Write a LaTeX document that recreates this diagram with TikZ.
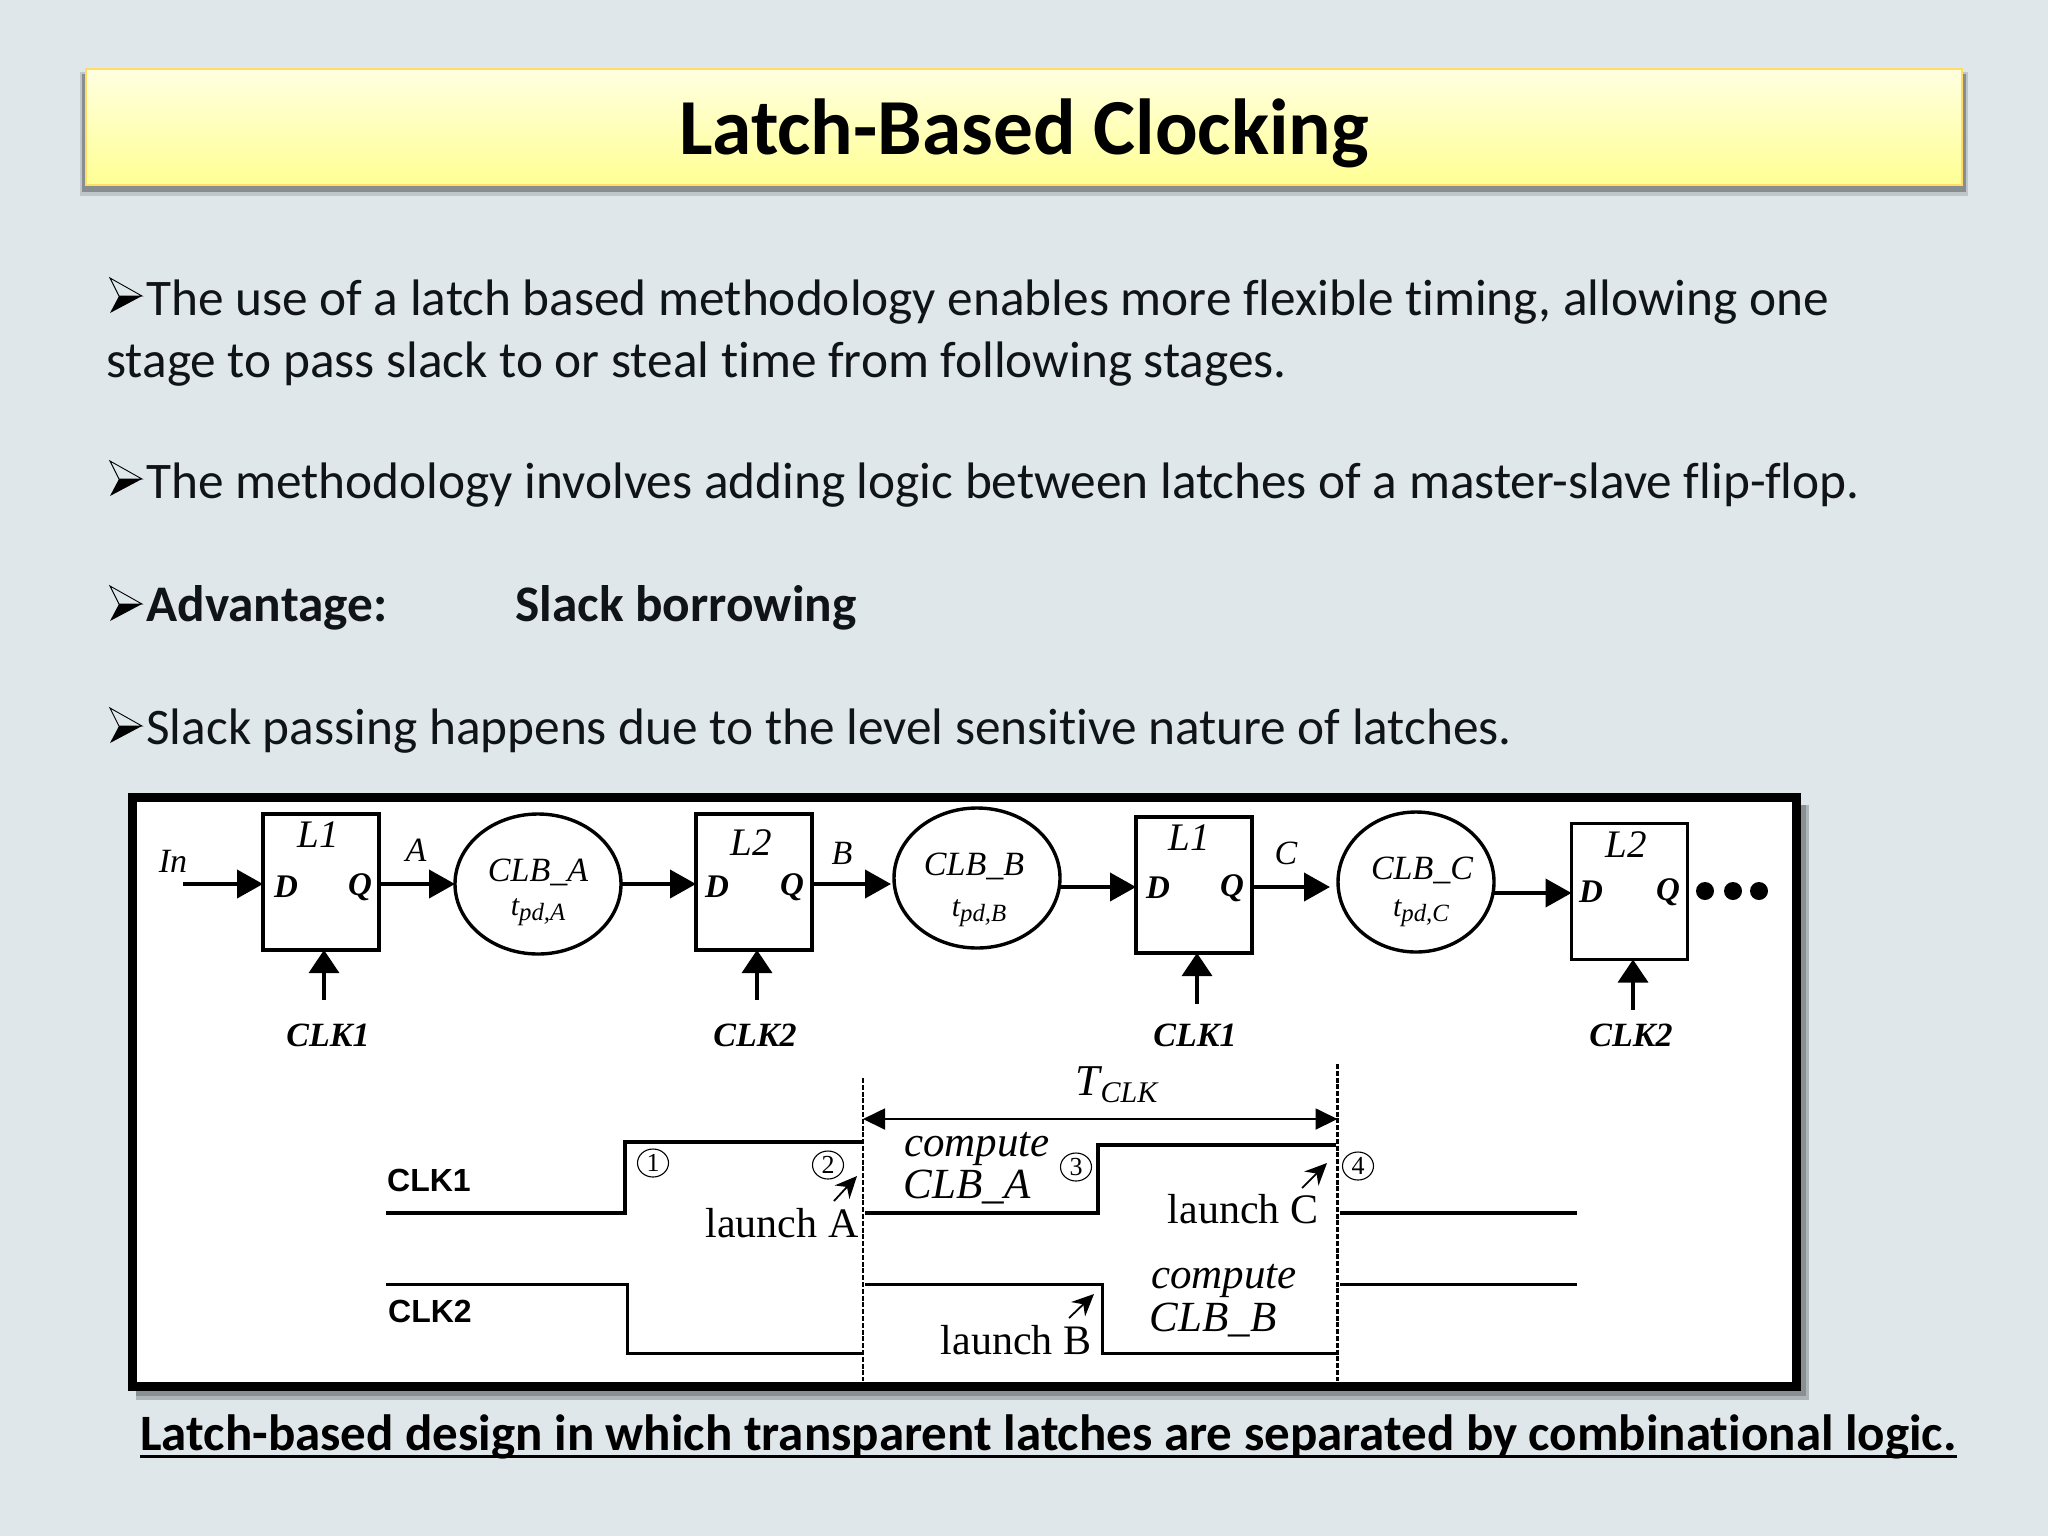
\documentclass[tikz,border=0pt]{standalone}
\usepackage{fontspec}
\usetikzlibrary{arrows.meta,shapes.geometric}
\setmainfont[Ligatures=NoCommon]{Carlito}
\newfontfamily\serifF{Liberation Serif}
\newfontfamily\sansF{Liberation Sans}
\newcommand\fsz[1]{\fontsize{#1}{#1}\selectfont}
\newcommand\tpd[1]{t\raisebox{-2.5pt}{\fsz{12.4}pd,#1}}
\definecolor{slidebg}{HTML}{DFE7EA}
\definecolor{inkc}{HTML}{101418}
\tikzset{
  bodyline/.style={anchor=base west,inner sep=0pt,text=inkc,font=\fsz{25.66}},
  boldline/.style={bodyline,font=\bfseries\fsz{25.66}},
  capline/.style={bodyline,font=\bfseries\fsz{25.5},text=black},
  latchbox/.style={draw=black,line width=1.9pt,fill=white,rectangle,minimum width=58pt,minimum height=68pt,inner sep=0pt,outer sep=0pt},
  clb/.style={draw=black,line width=1.7pt,fill=white,ellipse,minimum width=83pt,minimum height=70pt,inner sep=0pt,outer sep=0pt},
  figtxt/.style={inner sep=0pt,text=black,font=\serifF\itshape\fsz{17}},
  latchname/.style={figtxt,font=\serifF\itshape\fsz{19.5}},
  pinname/.style={figtxt,font=\serifF\bfseries\itshape\fsz{16.5}},
  clkname/.style={figtxt,font=\serifF\bfseries\itshape\fsz{17}},
  tpdtxt/.style={figtxt,font=\serifF\itshape\fsz{15}},
  wavetxt/.style={inner sep=0pt,font=\serifF\fsz{21}},
  comptxt/.style={inner sep=0pt,font=\serifF\itshape\fsz{21.5}},
  wavename/.style={inner sep=0pt,font=\sansF\bfseries\fsz{16}},
  stepnum/.style={ellipse,draw=black,line width=0.55pt,inner sep=0pt,minimum width=15.5pt,minimum height=14pt,font=\serifF\fsz{13}},
  dataarr/.style={line width=2pt,-{Triangle[length=13pt,width=14pt]}},
  clkarr/.style={line width=1.7pt,-{Triangle[length=11.5pt,width=15pt]}},
  smallarr/.style={line width=0.9pt,-{Stealth[length=11pt,width=10pt]}},
  dimarr/.style={line width=0.9pt,{Triangle[length=11pt,width=10.5pt]}-{Triangle[length=11pt,width=10.5pt]}},
  wave/.style={line width=1.7pt,line cap=butt,line join=miter},
  tickline/.style={line width=1.2pt,dash pattern=on 2.5pt off 0.9pt},
  bulletarrow/.pic={
    \draw[line width=0.45pt,fill=slidebg] (0,0) -- (32,18) -- (9,18) -- cycle;
    \fill[black] (0,35) -- (32,18) -- (9,18) -- cycle;
  }
}
\begin{document}
\begin{tikzpicture}[x=0.5pt,y=-0.5pt]
\useasboundingbox (0,0) rectangle (2048,1536);
\fill[slidebg] (0,0) rectangle (2048,1536);
% title bar
\fill[black!45!slidebg,opacity=0.3] (80,72) rectangle (1968,196);
\fill[black!45!slidebg,opacity=0.8] (82,74) rectangle (1966,192);
\node[rectangle,minimum width=938pt,minimum height=58pt,inner sep=0pt,outer sep=0pt,
      top color=yellow!12!white,bottom color=yellow!42!white,draw=orange!45!yellow!60!white,line width=0.7pt] (titlebar) at (1024,127) {};
\node[anchor=base,inner sep=0pt,font=\bfseries\fsz{39.7},text=black] (titletext) at (1024,155) {Latch-Based Clocking};
% body text
\pic at (110,278) {bulletarrow};
\node[bodyline] (line1) at (146,315) {The use of a latch based methodology enables more flexible timing, allowing one};
\node[bodyline] (line2) at (106,377) {stage to pass slack to or steal time from following stages.};
\pic at (110,461) {bulletarrow};
\node[bodyline] (line3) at (146,498) {The methodology involves adding logic between latches of a master-slave flip-flop.};
\pic at (110,586) {bulletarrow};
\node[boldline] (line4a) at (146,621) {Advantage:};
\node[boldline] (line4b) at (515,621) {Slack borrowing};
\pic at (110,708) {bulletarrow};
\node[bodyline] (line5) at (146,744) {Slack passing happens due to the level sensitive nature of latches.};
% figure frame
\fill[black!22!slidebg] (136,805) rectangle (1809,1400);
\fill[black!38!slidebg] (136,805) rectangle (1806,1396);
\draw[line width=4.5pt,fill=white] (132,797.5) rectangle (1796.5,1386.5);
% latch row
\node[latchbox] (L1a) at (321,882) {};
\node[latchbox] (L2a) at (754,882) {};
\node[latchbox] (L1b) at (1194,885) {};
\node[latchbox] (L2b) at (1629.5,891.5) {};
\node[clb] (clbA) at (538,884) {};
\node[clb] (clbB) at (977,878) {};
\node[clb,minimum width=78pt] (clbC) at (1416,882) {};
\coordinate (inStart) at (183,884);
\coordinate (bIn) at (0,884);
\coordinate (bOut) at (0,887);
\coordinate (cArrow) at (0,887);
\coordinate (dArrow) at (0,893);
\draw[dataarr] (inStart) -- (L1a.west |- inStart);
\draw[dataarr] (L1a.east |- clbA.west) -- (clbA.west);
\draw[dataarr] (clbA.east) -- (L2a.west |- clbA.east);
\draw[dataarr] (L2a.east |- bIn) -- ([xshift=-1.5pt]clbB.west |- bIn);
\draw[dataarr] (clbB.east |- bOut) -- (L1b.west |- bOut);
\draw[dataarr] (L1b.east |- cArrow) -- ([xshift=-4pt]clbC.west |- cArrow);
\draw[dataarr] (clbC.east |- dArrow) -- (L2b.west |- dArrow);
% latch labels
\node[figtxt] (inlbl) at (173,861) {In};
\node[figtxt] (alb) at (416,850) {A};
\node[figtxt] (blb) at (842,853) {B};
\node[figtxt] (clb2) at (1286,853) {C};
\node[latchname] (n1) at (318,835) {L1};
\node[latchname] (n2) at (751,843) {L2};
\node[latchname] (n3) at (1189,838) {L1};
\node[latchname] (n4) at (1626,845) {L2};
\node[pinname] at (286,887) {D};
\node[pinname] at (360,887) {Q};
\node[pinname] at (717,887) {D};
\node[pinname] at (792,887) {Q};
\node[pinname] at (1158,888) {D};
\node[pinname] at (1232,888) {Q};
\node[pinname] at (1591,892) {D};
\node[pinname] at (1668,892) {Q};
\node[figtxt] at (538,872) {CLB\_A};
\node[tpdtxt] at (538,912) {\tpd{A}};
\node[figtxt] at (974,866) {CLB\_B};
\node[tpdtxt] at (979,913) {\tpd{B}};
\node[figtxt] at (1422,870) {CLB\_C};
\node[tpdtxt] at (1421,913) {\tpd{C}};
\fill (1705,891) circle (9);
\fill (1733,891) circle (9);
\fill (1759,891) circle (9);
% clock pins
\node[clkname] (ck1) at (328,1035) {CLK1};
\node[clkname] (ck2) at (755,1035) {CLK2};
\node[clkname] (ck3) at (1195,1035) {CLK1};
\node[clkname] (ck4) at (1631,1035) {CLK2};
\coordinate (t1) at (324,1000);
\coordinate (t2) at (757,1000);
\coordinate (t3) at (1197,1004);
\coordinate (t4) at (1633,1010);
\draw[clkarr] (t1) -- (t1 |- L1a.south);
\draw[clkarr] (t2) -- (t2 |- L2a.south);
\draw[clkarr] (t3) -- (t3 |- L1b.south);
\draw[clkarr] (t4) -- (t4 |- L2b.south);
% timing
\coordinate (lt) at (863,1078);
\coordinate (lb) at (863,1381);
\coordinate (rt) at (1337.5,1064);
\coordinate (rb) at (1337.5,1381);
\draw[tickline] (lt) -- (lb);
\draw[tickline] (rt) -- (rb);
\draw[dimarr] (lt |- 0,1119) -- (rt |- 0,1119);
\draw[wave] (386,1213) -- (625,1213) -- (625,1142) -- (863,1142);
\draw[wave] (865,1213) -- (1098,1213) -- (1098,1145) -- (1336,1145);
\draw[wave] (1340,1213) -- (1577,1213);
\draw[wave,line width=1.5pt] (386,1284) -- (627.5,1284) -- (627.5,1353) -- (863,1353);
\draw[wave,line width=1.5pt] (865,1284) -- (1102,1284) -- (1102,1353) -- (1336,1353);
\draw[wave,line width=1.5pt] (1340,1284) -- (1577,1284);
\node[wavename] at (429,1180) {CLK1};
\node[wavename] at (430,1311) {CLK2};
\node[inner sep=0pt,font=\serifF\itshape\fsz{22}] (tclk) at (1088,1081) {T};
\node[inner sep=0pt,font=\serifF\itshape\fsz{15}] (tclksub) at (1129,1093) {CLK};
\node[stepnum] at (653,1163) {1};
\node[stepnum] at (828,1165) {2};
\node[stepnum] at (1076,1167) {3};
\node[stepnum] at (1358,1166) {4};
\node[wavetxt] (launchA) at (782,1223) {launch A};
\node[wavetxt] (launchB) at (1016,1340) {launch B};
\node[wavetxt] (launchC) at (1243,1209) {launch C};
\node[comptxt] at (977,1149) {compute};
\node[comptxt] at (967,1187) {CLB\_A};
\node[comptxt] at (1224,1281) {compute};
\node[comptxt] at (1213,1320) {CLB\_B};
\coordinate (aTail) at (834,1201); \coordinate (aTip) at (857,1176);
\coordinate (bTail) at (1069,1318); \coordinate (bTip) at (1094,1294);
\coordinate (cTail) at (1302,1188); \coordinate (cTip) at (1327,1163);
\draw[smallarr] (aTail) -- (aTip);
\draw[smallarr] (bTail) -- (bTip);
\draw[smallarr] (cTail) -- (cTip);
% caption
\node[capline] (caption) at (140,1450) {Latch-based design in which transparent latches are separated by combinational logic.};
\draw[line width=1.5pt] ([yshift=-3.3pt]caption.base west) -- ([yshift=-3.3pt]caption.base east);
\end{tikzpicture}
\end{document}
